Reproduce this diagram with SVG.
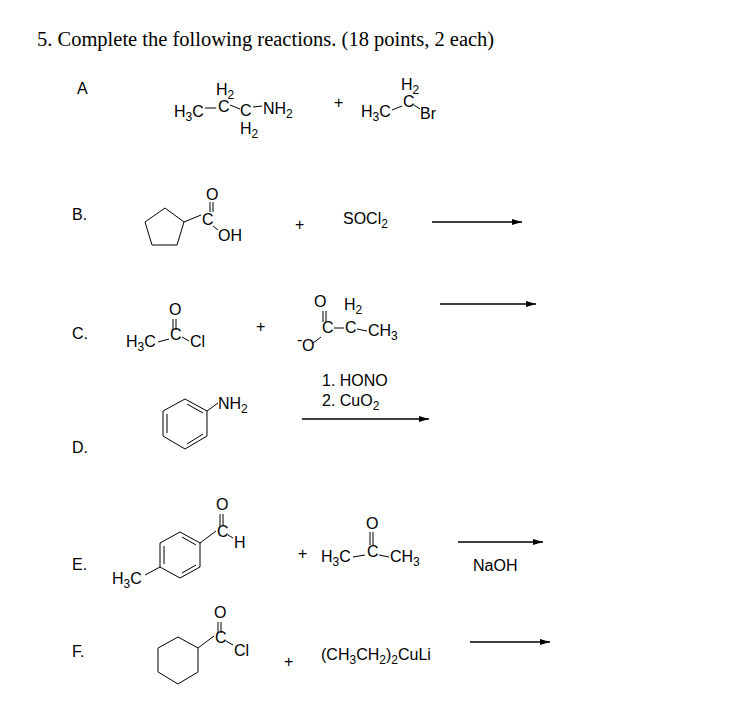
<svg xmlns="http://www.w3.org/2000/svg" width="744" height="715" viewBox="0 0 744 715">
<defs>
<marker id="ah" viewBox="0 0 10 6" refX="10" refY="3" markerWidth="10" markerHeight="6" markerUnits="userSpaceOnUse" orient="auto"><path d="M0,0 L10,3 L0,6 z" fill="#000"/></marker>
</defs>
<style>
text{font-family:"Liberation Sans",Arial,sans-serif;font-size:16px;fill:#000}
.t{font-family:"Liberation Serif","Times New Roman",serif;font-size:20.5px}
.s{font-size:12px}
line,polygon,polyline{stroke:#000;stroke-width:1;fill:none}
.ar{stroke-width:1.3}
</style>
<rect width="744" height="715" fill="#fff"/>
<text class="t" x="37" y="46">5.  Complete the following reactions. (18 points, 2 each)</text>
<g id="labels">
<text x="77" y="94">A</text><text x="72" y="220">B.</text><text x="72" y="339">C.</text>
<text x="72" y="453">D.</text><text x="72" y="570">E.</text><text x="72" y="657">F.</text>
</g>
<g id="A">
<text x="174" y="117">H<tspan class="s" dy="4">3</tspan><tspan dy="-4">C</tspan></text>
<line x1="205" y1="108" x2="216" y2="108"/>
<text x="218" y="112">C</text><text x="216" y="95">H<tspan class="s" dy="4">2</tspan></text>
<line x1="230" y1="105" x2="240" y2="109"/>
<text x="240" y="116">C</text><text x="240" y="134">H<tspan class="s" dy="4">2</tspan></text>
<line x1="253" y1="107" x2="262" y2="106"/>
<text x="263" y="114">NH<tspan class="s" dy="4">2</tspan></text>
<text x="334" y="108" font-size="12">+</text>
<text x="361" y="117">H<tspan class="s" dy="4">3</tspan><tspan dy="-4">C</tspan></text>
<line x1="392" y1="110" x2="402" y2="106"/>
<text x="403" y="107">C</text><text x="401" y="90">H<tspan class="s" dy="4">2</tspan></text>
<line x1="414" y1="105" x2="420" y2="109"/>
<text x="420" y="119">Br</text>
</g>
<g id="B">
<polygon points="145,222 165,208 184,222 177,245 152,245"/>
<line x1="184" y1="222" x2="201" y2="215"/>
<text x="202" y="225">C</text><text x="206" y="200">O</text>
<line x1="210" y1="202" x2="210" y2="212"/><line x1="213" y1="202" x2="213" y2="212"/>
<line x1="213" y1="226" x2="218" y2="230"/>
<text x="218" y="241">OH</text>
<text x="295" y="230" font-size="12">+</text>
<text x="343" y="224">SOCl<tspan class="s" dy="4">2</tspan></text>
</g>
<g id="C">
<text x="126" y="347">H<tspan class="s" dy="4">3</tspan><tspan dy="-4">C</tspan></text>
<line x1="158" y1="342" x2="169" y2="339"/>
<text x="170" y="340">C</text><text x="169" y="315">O</text>
<line x1="173" y1="319" x2="173" y2="330"/><line x1="176" y1="319" x2="176" y2="330"/>
<line x1="182" y1="337" x2="189" y2="341"/>
<text x="190" y="347">Cl</text>
<text x="256" y="332" font-size="12">+</text>
<text x="314" y="307">O</text><text x="344" y="310">H<tspan class="s" dy="4">2</tspan></text>
<line x1="323" y1="311" x2="323" y2="322"/><line x1="326" y1="311" x2="326" y2="322"/>
<text x="322" y="333">C</text>
<line x1="334" y1="328" x2="344" y2="328"/>
<text x="345" y="333">C</text>
<line x1="357" y1="329" x2="367" y2="331"/>
<text x="368" y="336">CH<tspan class="s" dy="4">3</tspan></text>
<text x="297" y="345" font-size="11">-</text><text x="302" y="351">O</text>
<line x1="313" y1="343" x2="321" y2="337"/>
</g>
<g id="D">
<polygon points="185,399 207,411 207,436 185,449 163,436 163,411"/>
<line x1="167" y1="414" x2="167" y2="433"/>
<line x1="187" y1="404" x2="203" y2="413"/>
<line x1="187" y1="444" x2="203" y2="434"/>
<line x1="207" y1="411" x2="218" y2="403"/>
<text x="218" y="409">NH<tspan class="s" dy="4">2</tspan></text>
<text x="322" y="386">1. HONO</text>
<text x="322" y="406">2. CuO<tspan class="s" dy="4">2</tspan></text>
</g>
<g id="E">
<polygon points="180,532 200,543 200,567 180,578 160,567 160,543"/>
<line x1="164" y1="546" x2="164" y2="564"/>
<line x1="182" y1="537" x2="196" y2="545"/>
<line x1="182" y1="573" x2="196" y2="565"/>
<line x1="200" y1="543" x2="216" y2="531"/>
<text x="217" y="537">C</text><text x="216" y="510">O</text>
<line x1="220" y1="514" x2="220" y2="526"/><line x1="223" y1="514" x2="223" y2="526"/>
<line x1="228" y1="535" x2="233" y2="538"/>
<text x="234" y="548">H</text>
<line x1="160" y1="567" x2="145" y2="575"/>
<text x="112" y="584">H<tspan class="s" dy="4">3</tspan><tspan dy="-4">C</tspan></text>
<text x="298" y="559" font-size="12">+</text>
<text x="321" y="562">H<tspan class="s" dy="4">3</tspan><tspan dy="-4">C</tspan></text>
<line x1="353" y1="557" x2="365" y2="555"/>
<text x="367" y="557">C</text><text x="366" y="529">O</text>
<line x1="370" y1="532" x2="370" y2="545"/><line x1="373" y1="532" x2="373" y2="545"/>
<line x1="379" y1="555" x2="389" y2="557"/>
<text x="390" y="562">CH<tspan class="s" dy="4">3</tspan></text>
<text x="473" y="571">NaOH</text>
</g>
<g id="F">
<polygon points="178,637 198,648 198,672 178,684 158,672 158,648"/>
<line x1="198" y1="648" x2="214" y2="636"/>
<text x="215" y="643">C</text><text x="214" y="618">O</text>
<line x1="218" y1="622" x2="218" y2="633"/><line x1="221" y1="622" x2="221" y2="633"/>
<line x1="226" y1="641" x2="233" y2="645"/>
<text x="234" y="656">Cl</text>
<text x="284" y="667" font-size="12">+</text>
<text x="321" y="660">(CH<tspan class="s" dy="4">3</tspan><tspan dy="-4">CH</tspan><tspan class="s" dy="4">2</tspan><tspan dy="-4">)</tspan><tspan class="s" dy="4">2</tspan><tspan dy="-4">CuLi</tspan></text>
</g>
<g id="connectors">
<line class="ar" x1="432" y1="222" x2="522" y2="222" marker-end="url(#ah)"/>
<line class="ar" x1="440" y1="304" x2="536" y2="304" marker-end="url(#ah)"/>
<line class="ar" x1="302" y1="419" x2="429" y2="419" marker-end="url(#ah)"/>
<line class="ar" x1="458" y1="542" x2="543" y2="542" marker-end="url(#ah)"/>
<line class="ar" x1="470" y1="642" x2="550" y2="642" marker-end="url(#ah)"/>
</g>
</svg>
